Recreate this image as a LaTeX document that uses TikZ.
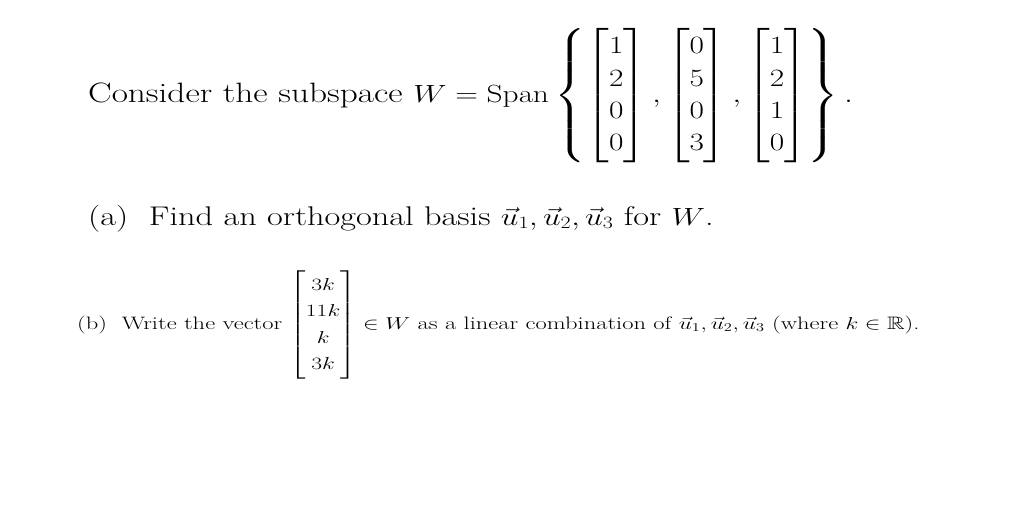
\documentclass[tikz,border=0pt]{standalone}
\usepackage{amsmath,amssymb,graphicx}
\tikzset{txt/.style={inner sep=0pt,anchor=base west}}
\begin{document}
\begin{tikzpicture}[x=1pt,y=1pt]
\useasboundingbox (0,0) rectangle (1024,-512);
\node[txt] (l1) at (88,-102) {\scalebox{1.26}[1]{\fontsize{28}{34}\selectfont\renewcommand{\arraystretch}{0.95}Consider the subspace $W=\operatorname{Span}\left\{\begin{bmatrix}1\\2\\0\\0\end{bmatrix},\begin{bmatrix}0\\5\\0\\3\end{bmatrix},\begin{bmatrix}1\\2\\1\\0\end{bmatrix}\right\}.$}};
\node[txt] (la) at (88,-225) {\scalebox{1.27}[1]{\fontsize{27}{32}\selectfont (a)\ \ Find an orthogonal basis $\vec u_1,\vec u_2,\vec u_3$ for $W$.}};
\node[txt] (lb) at (77,-329) {\scalebox{1.36}[1]{\fontsize{18}{22}\selectfont\renewcommand{\arraystretch}{1.2}(b)\ \ Write the vector $\begin{bmatrix}3k\\11k\\k\\3k\end{bmatrix}\in W$ as a linear combination of $\vec u_1,\vec u_2,\vec u_3$ (where $k\in\mathbb{R}$).}};
\end{tikzpicture}
\end{document}
